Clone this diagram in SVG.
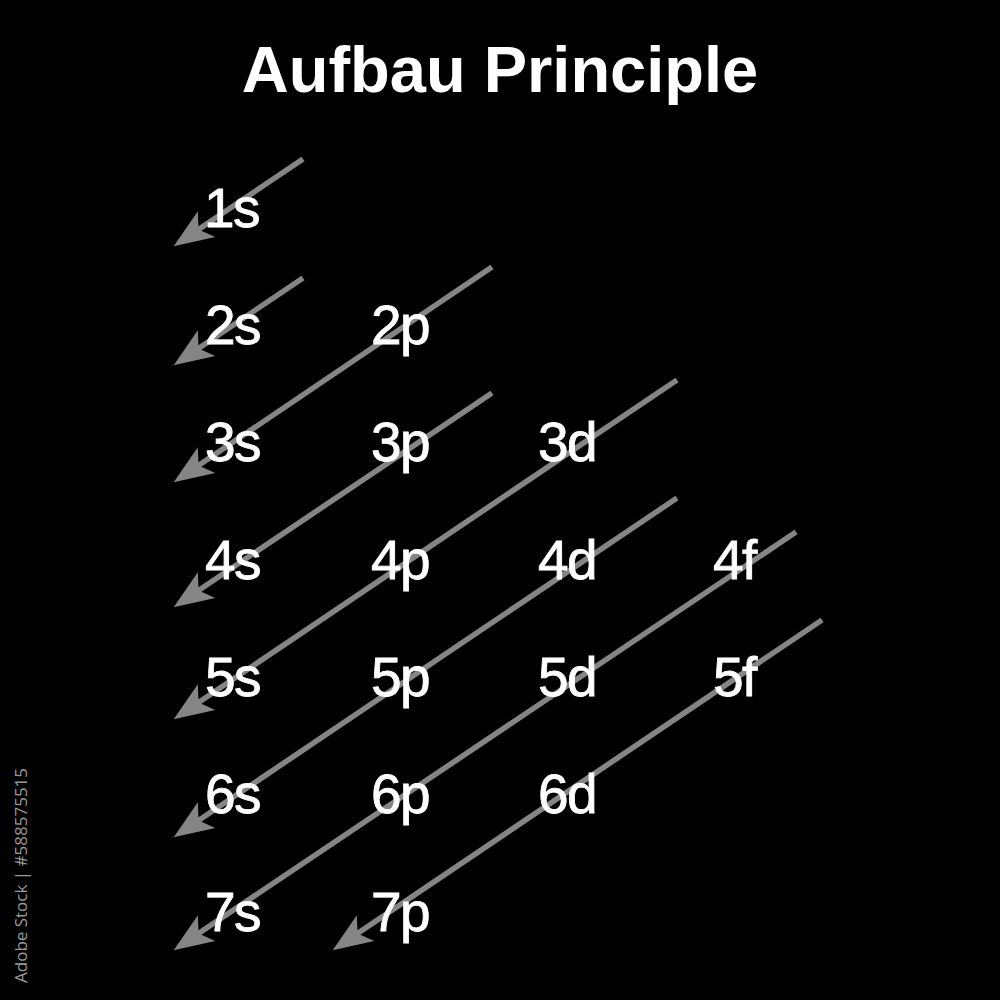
<svg xmlns="http://www.w3.org/2000/svg" width="1000" height="1000" viewBox="0 0 1000 1000">
<style>
.lbl{font-family:"Liberation Sans",Arial,sans-serif;font-size:55px;fill:#fff;stroke:#fff;stroke-width:0.8px;letter-spacing:-1.5px}
.title{font-family:"Liberation Sans",Arial,sans-serif;font-size:65px;font-weight:bold;fill:#fff}
.arr{stroke:#858585;stroke-width:5.5;fill:none;marker-end:url(#head)}
.wm{font-family:"Open Sans","Liberation Sans",sans-serif;font-size:17px;fill:#9a9a9a}
</style>
<defs>
<marker id="head" markerUnits="userSpaceOnUse" orient="auto" refX="0" refY="0" markerWidth="60" markerHeight="60" viewBox="-20 -20 50 40" overflow="visible">
<path d="M20,0 L-13,-13 L-5,0 L-13,13 Z" fill="#858585"/>
</marker>
</defs>
<rect x="0" y="0" width="1000" height="1000" fill="#000"/>
<g id="title"><text class="title" x="500" y="92" text-anchor="middle">Aufbau Principle</text></g>
<g id="connectors">
<line class="arr" x1="303" y1="159" x2="193.6" y2="232.8"/>
<line class="arr" x1="303" y1="278" x2="193.6" y2="351.8"/>
<line class="arr" x1="492" y1="267" x2="193.6" y2="468.8"/>
<line class="arr" x1="492" y1="393" x2="193.6" y2="593.8"/>
<line class="arr" x1="677" y1="380" x2="193.6" y2="705.8"/>
<line class="arr" x1="677" y1="498" x2="193.6" y2="823.8"/>
<line class="arr" x1="796" y1="532" x2="193.6" y2="936.8"/>
<line class="arr" x1="822" y1="620" x2="352.6" y2="936.8"/>
</g>
<g id="n1s"><text class="lbl" x="204" y="227">1s</text></g>
<g id="n2s"><text class="lbl" x="205" y="344">2s</text></g>
<g id="n2p"><text class="lbl" x="371" y="344">2p</text></g>
<g id="n3s"><text class="lbl" x="205" y="461">3s</text></g>
<g id="n3p"><text class="lbl" x="371" y="461">3p</text></g>
<g id="n3d"><text class="lbl" x="538" y="461">3d</text></g>
<g id="n4s"><text class="lbl" x="205" y="579">4s</text></g>
<g id="n4p"><text class="lbl" x="371" y="579">4p</text></g>
<g id="n4d"><text class="lbl" x="538" y="579">4d</text></g>
<g id="n4f"><text class="lbl" x="713" y="579">4f</text></g>
<g id="n5s"><text class="lbl" x="205" y="696">5s</text></g>
<g id="n5p"><text class="lbl" x="371" y="696">5p</text></g>
<g id="n5d"><text class="lbl" x="538" y="696">5d</text></g>
<g id="n5f"><text class="lbl" x="713" y="696">5f</text></g>
<g id="n6s"><text class="lbl" x="205" y="813">6s</text></g>
<g id="n6p"><text class="lbl" x="371" y="813">6p</text></g>
<g id="n6d"><text class="lbl" x="538" y="813">6d</text></g>
<g id="n7s"><text class="lbl" x="205" y="931">7s</text></g>
<g id="n7p"><text class="lbl" x="371" y="931">7p</text></g>
<g id="watermark"><text class="wm" transform="translate(27,983) rotate(-90)">Adobe Stock | #588575515</text></g>
</svg>
